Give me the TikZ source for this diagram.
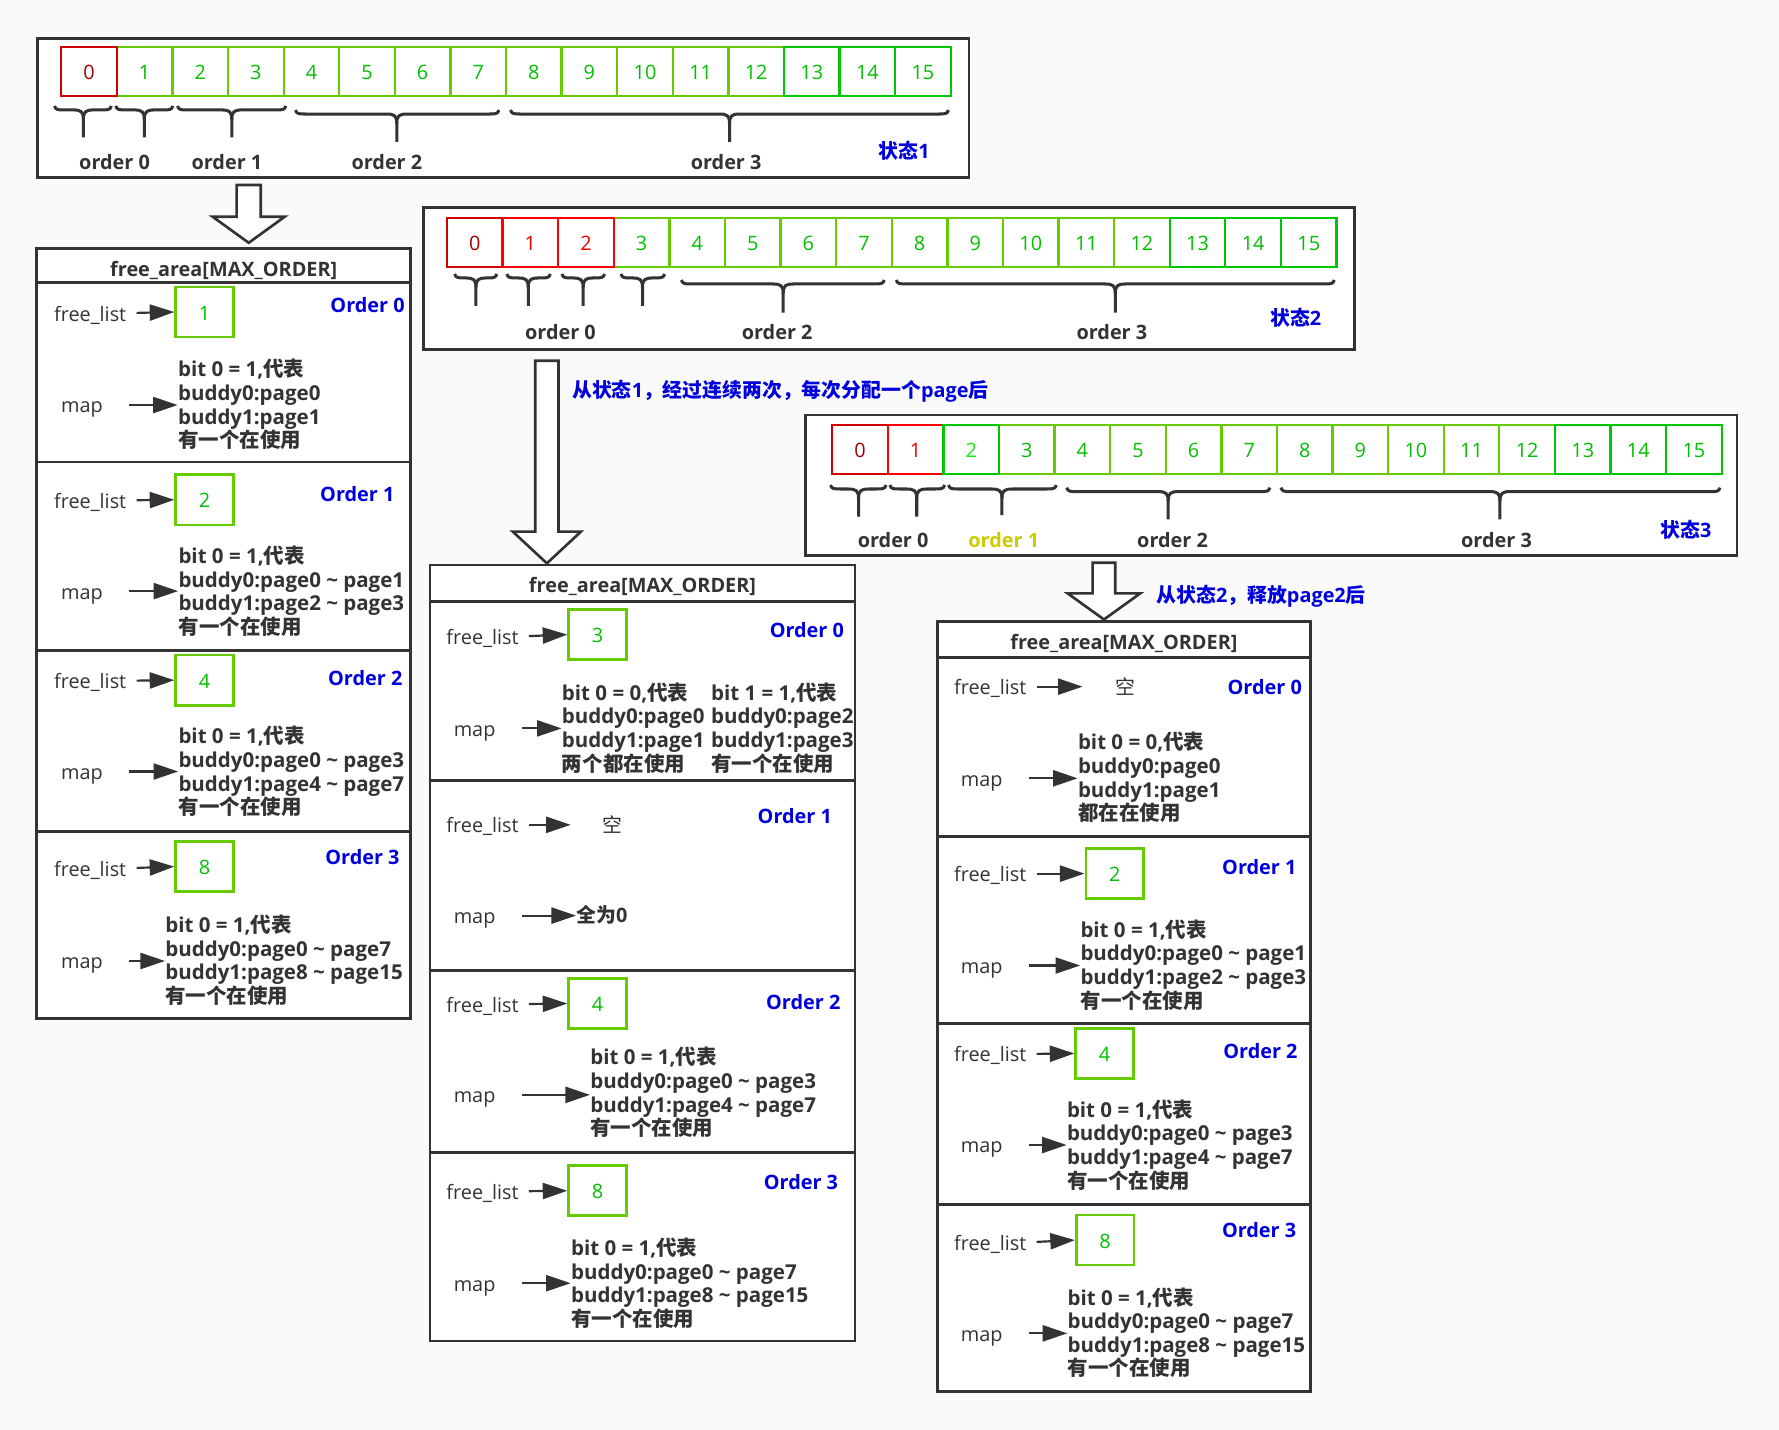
\documentclass[tikz,border=0pt]{standalone}
\usepackage{fontspec}
\setmainfont{Open Sans}
\newfontfamily\cjk{Noto Sans CJK SC}
\usetikzlibrary{arrows.meta}
\newcommand\zh[1]{{\cjk #1}}
\newcommand\tld{\textasciitilde{}}
\newcommand\fsz{\fontsize{10.5pt}{12.5pt}\selectfont}
\newcommand\fszb{\fontsize{10.85pt}{12.5pt}\selectfont}
\definecolor{dk}{HTML}{333333}
\definecolor{gB}{HTML}{66CC00}
\definecolor{gB2}{HTML}{00C800}
\definecolor{gT}{HTML}{00C000}
\definecolor{gL}{HTML}{11EE11}
\definecolor{rD}{HTML}{D00000}
\definecolor{rT0}{HTML}{A00000}
\definecolor{rB}{HTML}{FF0000}
\definecolor{rT}{HTML}{EE0000}
\definecolor{bl}{HTML}{0000DD}
\definecolor{yl}{HTML}{CCCC00}
\definecolor{bgc}{HTML}{FAFAFA}
\newcommand\mybrace[5]{%
  \draw[brc] (#1,#4) .. controls (#1+1,#4+3.5) and (#1+3,#4+3.5) .. (#1+9,#4+3.5) -- (#3-9,#4+3.5) .. controls (#3-2,#4+3.5) and (#3,#4+5) .. (#3,#4+12) -- (#3,#5);
  \draw[brc] (#2,#4) .. controls (#2-1,#4+3.5) and (#2-3,#4+3.5) .. (#2-9,#4+3.5) -- (#3+9,#4+3.5) .. controls (#3+2,#4+3.5) and (#3,#4+5) .. (#3,#4+12);
}
\newcommand\cellrow[4]{\foreach \i/\s in {#4}{\node[\s] (#1\i) at ({#2+49*\i+24.5},#3) {\i};}}
\newcommand\blockarrow[6]{%
  \draw[barrow] (#1-#5,#2) -- (#1+#5,#2) -- (#1+#5,#3) -- (#1+#6,#3) -- (#1,#4) -- (#1-#6,#3) -- (#1-#5,#3) -- cycle;
}
\begin{document}
\begin{tikzpicture}[x=0.6pt,y=-0.6pt,
  box/.style={draw=dk, line width=1.5pt, fill=white},
  sep/.style={draw=dk, line width=1.5pt},
  tx/.style={inner sep=0pt, text height=1.0em, text depth=0.16em, font=\fsz, text=dk},
  btx/.style={tx, font=\fsz\bfseries},
  ord/.style={btx, text=bl, anchor=east},
  zt/.style={btx, text=bl},
  blk/.style={inner sep=0pt, align=left, font=\fszb\bfseries, text=dk, anchor=west},
  arr/.style={draw=dk, line width=1.15pt, -{Triangle[length=13pt,width=8.5pt]}},
  brc/.style={draw=dk, line width=1.6pt},
  cell/.style={inner sep=0pt, minimum width=29.4pt, minimum height=25.8pt, line width=1.2pt, fill=white, font=\fsz, text height=0.9em, text depth=0.05em},
  cg/.style={cell, draw=gB, text=gT},
  cg2/.style={cell, draw=gB2, text=gT},
  cg3/.style={cell, draw=gB2, text=gL},
  cdr/.style={cell, draw=rD, text=rT0},
  cr/.style={cell, draw=rB, text=rT},
  lbox/.style={draw=gB, line width=1.4pt, fill=white, minimum width=30.5pt, minimum height=26.5pt, inner sep=0pt, font=\fsz, text=gT, text height=0.9em, text depth=0.05em},
  barrow/.style={draw=dk, line width=1.4pt, fill=white, line join=miter},
  fla/.style={arr, shorten <=5.3pt},
  mpa/.style={arr, shorten <=13.8pt},
]
\fill[bgc] (0,0) rectangle (1568,1260);
\useasboundingbox (0,0) rectangle (1568,1260);

% ---------------- State 1 ----------------
\draw[box] (33,33.8) rectangle (854,156.6);
\cellrow{sa}{54}{63.2}{1/cg,2/cg,3/cg,4/cg,5/cg,6/cg,7/cg,8/cg,9/cg,10/cg,11/cg,12/cg,13/cg2,14/cg2,15/cg2,0/cdr}
\mybrace{48}{98.2}{73.5}{93.4}{121}
\mybrace{102}{152.4}{127.2}{93.4}{121}
\mybrace{156.4}{252}{204.3}{93.4}{121}
\mybrace{260.4}{439.8}{349.7}{97}{125}
\mybrace{450}{836}{643}{97}{125}
\node[btx] (sao0) at (101,142) {order 0};
\node[btx] (sao1) at (200,142) {order 1};
\node[btx] (sao2) at (341,142) {order 2};
\node[btx] (sao3) at (640,142) {order 3};
\node[zt] (sast) at (797,133) {\zh{状态}1};

% ---------------- State 2 ----------------
\draw[box] (373,183) rectangle (1194,308);
\cellrow{sb}{394}{213.7}{3/cg,4/cg,5/cg,6/cg,7/cg,8/cg,9/cg,10/cg,11/cg,12/cg,13/cg2,14/cg2,15/cg2,0/cdr,1/cr,2/cr}
\mybrace{400.7}{437.9}{419.5}{241.5}{269.7}
\mybrace{446.7}{485.1}{465.6}{241.5}{269.7}
\mybrace{495.2}{532.9}{514}{241.5}{269.7}
\mybrace{547.3}{585.8}{566.3}{241.5}{269.7}
\mybrace{600.6}{779.4}{690.3}{246.8}{275.6}
\mybrace{790}{1176}{983}{246.8}{275.6}
\node[btx] (sbo0) at (494,292.5) {order 0};
\node[btx] (sbo2) at (685,292.5) {order 2};
\node[btx] (sbo3) at (980,292.5) {order 3};
\node[zt] (sbst) at (1142,280) {\zh{状态}2};

% ---------------- State 3 ----------------
\draw[box] (710,365.8) rectangle (1531,489.7);
\cellrow{sc}{733.5}{396.2}{3/cg,4/cg,5/cg,6/cg,7/cg,8/cg,9/cg,10/cg,11/cg,12/cg,13/cg2,14/cg2,15/cg2,0/cdr,1/cr,2/cg3}
\mybrace{732}{781}{756.7}{427.5}{455.4}
\mybrace{784.3}{832.6}{808}{427.5}{455.4}
\mybrace{836}{931}{883.1}{427.5}{454}
\mybrace{940.2}{1119.3}{1029.6}{429.8}{457.7}
\mybrace{1129}{1516}{1322}{429.8}{457.7}
\node[btx] (sco0) at (787.2,475.4) {order 0};
\node[btx, text=yl] (sco1) at (884.7,475.4) {order 1};
\node[btx] (sco2) at (1033.5,475.4) {order 2};
\node[btx] (sco3) at (1319,475.4) {order 3};
\node[zt] (scst) at (1486,467) {\zh{状态}3};

% captions
\node[zt, anchor=west] (capa) at (504,343) {\zh{从状态}1\zh{，经过连续两次，每次分配一个}page\zh{后}};
\node[zt, anchor=west] (capb) at (1019,524.4) {\zh{从状态}2\zh{，释放}page2\zh{后}};

% ---------------- free area 1 ----------------
\draw[box] (32.3,218.9) rectangle (362,897.5);
\draw[sep] (32.3,249.1) -- (362,249.1);
\draw[sep] (32.3,407.2) -- (362,407.2);
\draw[sep] (32.3,573) -- (362,573);
\draw[sep] (32.3,733) -- (362,733);
\node[btx] (fah) at (197.2,236.5) {free\_area[MAX\_ORDER]};
% s0
\node[tx, anchor=east] (fa0f) at (111.6,276) {free\_list};
\node[lbox] (fa0b) at (180.2,275) {1};
\node[ord] (fa0o) at (357,268.8) {Order 0};
\node[tx, anchor=east] (fa0m) at (91,357) {map};
\node[blk] (fa0t) at (156.6,356.6) {bit 0 = 1,\zh{代表}\\buddy0:page0\\buddy1:page1\\\zh{有一个在使用}};
\draw[fla] (fa0f.east) -- (fa0b.west);
\draw[mpa] (fa0m.east) -- (fa0m.east -| fa0t.west);
% s1
\node[tx, anchor=east] (fa1f) at (111.6,441) {free\_list};
\node[lbox] (fa1b) at (180.2,440.5) {2};
\node[ord] (fa1o) at (348,435) {Order 1};
\node[tx, anchor=east] (fa1m) at (91,521) {map};
\node[blk] (fa1t) at (157,521) {bit 0 = 1,\zh{代表}\\buddy0:page0 \tld{} page1\\buddy1:page2 \tld{} page3\\\zh{有一个在使用}};
\draw[fla] (fa1f.east) -- (fa1b.west);
\draw[mpa] (fa1m.east) -- (fa1m.east -| fa1t.west);
% s2
\node[tx, anchor=east] (fa2f) at (111.6,600) {free\_list};
\node[lbox] (fa2b) at (180.2,599.5) {4};
\node[ord] (fa2o) at (355,597) {Order 2};
\node[tx, anchor=east] (fa2m) at (91,680) {map};
\node[blk] (fa2t) at (157,680) {bit 0 = 1,\zh{代表}\\buddy0:page0 \tld{} page3\\buddy1:page4 \tld{} page7\\\zh{有一个在使用}};
\draw[fla] (fa2f.east) -- (fa2b.west);
\draw[mpa] (fa2m.east) -- (fa2m.east -| fa2t.west);
% s3
\node[tx, anchor=east] (fa3f) at (111.6,765.3) {free\_list};
\node[lbox] (fa3b) at (180.2,763.8) {8};
\node[ord] (fa3o) at (352.5,755) {Order 3};
\node[tx, anchor=east] (fa3m) at (91,847) {map};
\node[blk] (fa3t) at (145.4,846.5) {bit 0 = 1,\zh{代表}\\buddy0:page0 \tld{} page7\\buddy1:page8 \tld{} page15\\\zh{有一个在使用}};
\draw[fla] (fa3f.east) -- (fa3b.west);
\draw[mpa] (fa3m.east) -- (fa3m.east -| fa3t.west);

% ---------------- free area 2 ----------------
\draw[box] (379,498) rectangle (753.6,1182);
\draw[sep] (379,530.3) -- (753.6,530.3);
\draw[sep] (379,688) -- (753.6,688);
\draw[sep] (379,855.5) -- (753.6,855.5);
\draw[sep] (379,1016) -- (753.6,1016);
\node[btx] (fbh) at (566.3,515) {free\_area[MAX\_ORDER]};
% s0
\node[tx, anchor=east] (fb0f) at (457.4,561) {free\_list};
\node[lbox] (fb0b) at (526.6,559.3) {3};
\node[ord] (fb0o) at (744.2,554.7) {Order 0};
\node[tx, anchor=east] (fb0m) at (437,642) {map};
\node[blk] (fb0t) at (495,641.6) {bit 0 = 0,\zh{代表}\\buddy0:page0\\buddy1:page1\\\zh{两个都在使用}};
\node[blk] (fb0u) at (626.4,641.6) {bit 1 = 1,\zh{代表}\\buddy0:page2\\buddy1:page3\\\zh{有一个在使用}};
\draw[fla] (fb0f.east) -- (fb0b.west);
\draw[mpa] (fb0m.east) -- (fb0m.east -| fb0t.west);
% s1
\node[tx, anchor=east] (fb1f) at (457.4,727) {free\_list};
\coordinate (fb1e) at (503,727);
\node[tx] (fb1k) at (539.7,727) {\zh{空}};
\node[ord] (fb1o) at (733.6,719) {Order 1};
\node[tx, anchor=east] (fb1m) at (437,807) {map};
\node[btx, anchor=west] (fb1t) at (507.7,806) {\zh{全为}0};
\draw[fla] (fb1f.east) -- (fb1e);
\draw[mpa] (fb1m.east) -- (fb1m.east -| fb1t.west);
% s2
\node[tx, anchor=east] (fb2f) at (457.4,885) {free\_list};
\node[lbox] (fb2b) at (526.6,884.5) {4};
\node[ord] (fb2o) at (741,883) {Order 2};
\node[tx, anchor=east] (fb2m) at (437,965) {map};
\node[blk] (fb2t) at (520,963) {bit 0 = 1,\zh{代表}\\buddy0:page0 \tld{} page3\\buddy1:page4 \tld{} page7\\\zh{有一个在使用}};
\draw[fla] (fb2f.east) -- (fb2b.west);
\draw[mpa] (fb2m.east) -- (fb2m.east -| fb2t.west);
% s3
\node[tx, anchor=east] (fb3f) at (457.4,1050) {free\_list};
\node[lbox] (fb3b) at (526.6,1049.5) {8};
\node[ord] (fb3o) at (739,1041) {Order 3};
\node[tx, anchor=east] (fb3m) at (437,1131) {map};
\node[blk] (fb3t) at (503,1131) {bit 0 = 1,\zh{代表}\\buddy0:page0 \tld{} page7\\buddy1:page8 \tld{} page15\\\zh{有一个在使用}};
\draw[fla] (fb3f.east) -- (fb3b.west);
\draw[mpa] (fb3m.east) -- (fb3m.east -| fb3t.west);

% ---------------- free area 3 ----------------
\draw[box] (826,548) rectangle (1155.2,1226.6);
\draw[sep] (826,579.6) -- (1155.2,579.6);
\draw[sep] (826,737.4) -- (1155.2,737.4);
\draw[sep] (826,902) -- (1155.2,902);
\draw[sep] (826,1061.5) -- (1155.2,1061.5);
\node[btx] (fch) at (990.6,565.5) {free\_area[MAX\_ORDER]};
% s0
\node[tx, anchor=east] (fc0f) at (904.9,605.2) {free\_list};
\coordinate (fc0e) at (954.2,605.2);
\node[tx] (fc0k) at (991.9,605.2) {\zh{空}};
\node[ord] (fc0o) at (1147.8,605.2) {Order 0};
\node[tx, anchor=east] (fc0m) at (884,686) {map};
\node[blk] (fc0t) at (949.8,685.3) {bit 0 = 0,\zh{代表}\\buddy0:page0\\buddy1:page1\\\zh{都在在使用}};
\draw[fla] (fc0f.east) -- (fc0e);
\draw[mpa] (fc0m.east) -- (fc0m.east -| fc0t.west);
% s1
\node[tx, anchor=east] (fc1f) at (904.9,770) {free\_list};
\node[lbox] (fc1b) at (982.5,770) {2};
\node[ord] (fc1o) at (1143,764) {Order 1};
\node[tx, anchor=east] (fc1m) at (884,851) {map};
\node[blk] (fc1t) at (952,850.5) {bit 0 = 1,\zh{代表}\\buddy0:page0 \tld{} page1\\buddy1:page2 \tld{} page3\\\zh{有一个在使用}};
\draw[fla] (fc1f.east) -- (fc1b.west);
\draw[mpa] (fc1m.east) -- (fc1m.east -| fc1t.west);
% s2
\node[tx, anchor=east] (fc2f) at (904.9,929) {free\_list};
\node[lbox] (fc2b) at (973.5,928.5) {4};
\node[ord] (fc2o) at (1144,926) {Order 2};
\node[tx, anchor=east] (fc2m) at (884,1009.2) {map};
\node[blk] (fc2t) at (940.1,1009.2) {bit 0 = 1,\zh{代表}\\buddy0:page0 \tld{} page3\\buddy1:page4 \tld{} page7\\\zh{有一个在使用}};
\draw[fla] (fc2f.east) -- (fc2b.west);
\draw[mpa] (fc2m.east) -- (fc2m.east -| fc2t.west);
% s3
\node[tx, anchor=east] (fc3f) at (904.9,1095) {free\_list};
\node[lbox] (fc3b) at (974,1093) {8};
\node[ord] (fc3o) at (1142.8,1084) {Order 3};
\node[tx, anchor=east] (fc3m) at (884,1175.2) {map};
\node[blk] (fc3t) at (940.7,1174.7) {bit 0 = 1,\zh{代表}\\buddy0:page0 \tld{} page7\\buddy1:page8 \tld{} page15\\\zh{有一个在使用}};
\draw[fla] (fc3f.east) -- (fc3b.west);
\draw[mpa] (fc3m.east) -- (fc3m.east -| fc3t.west);

% ---------------- block arrows ----------------
\blockarrow{219.2}{163}{191}{214}{10.6}{31.8}
\blockarrow{482}{318}{468.6}{496.5}{10.3}{30}
\blockarrow{973}{496}{523}{546}{10}{32}
\end{tikzpicture}
\end{document}
